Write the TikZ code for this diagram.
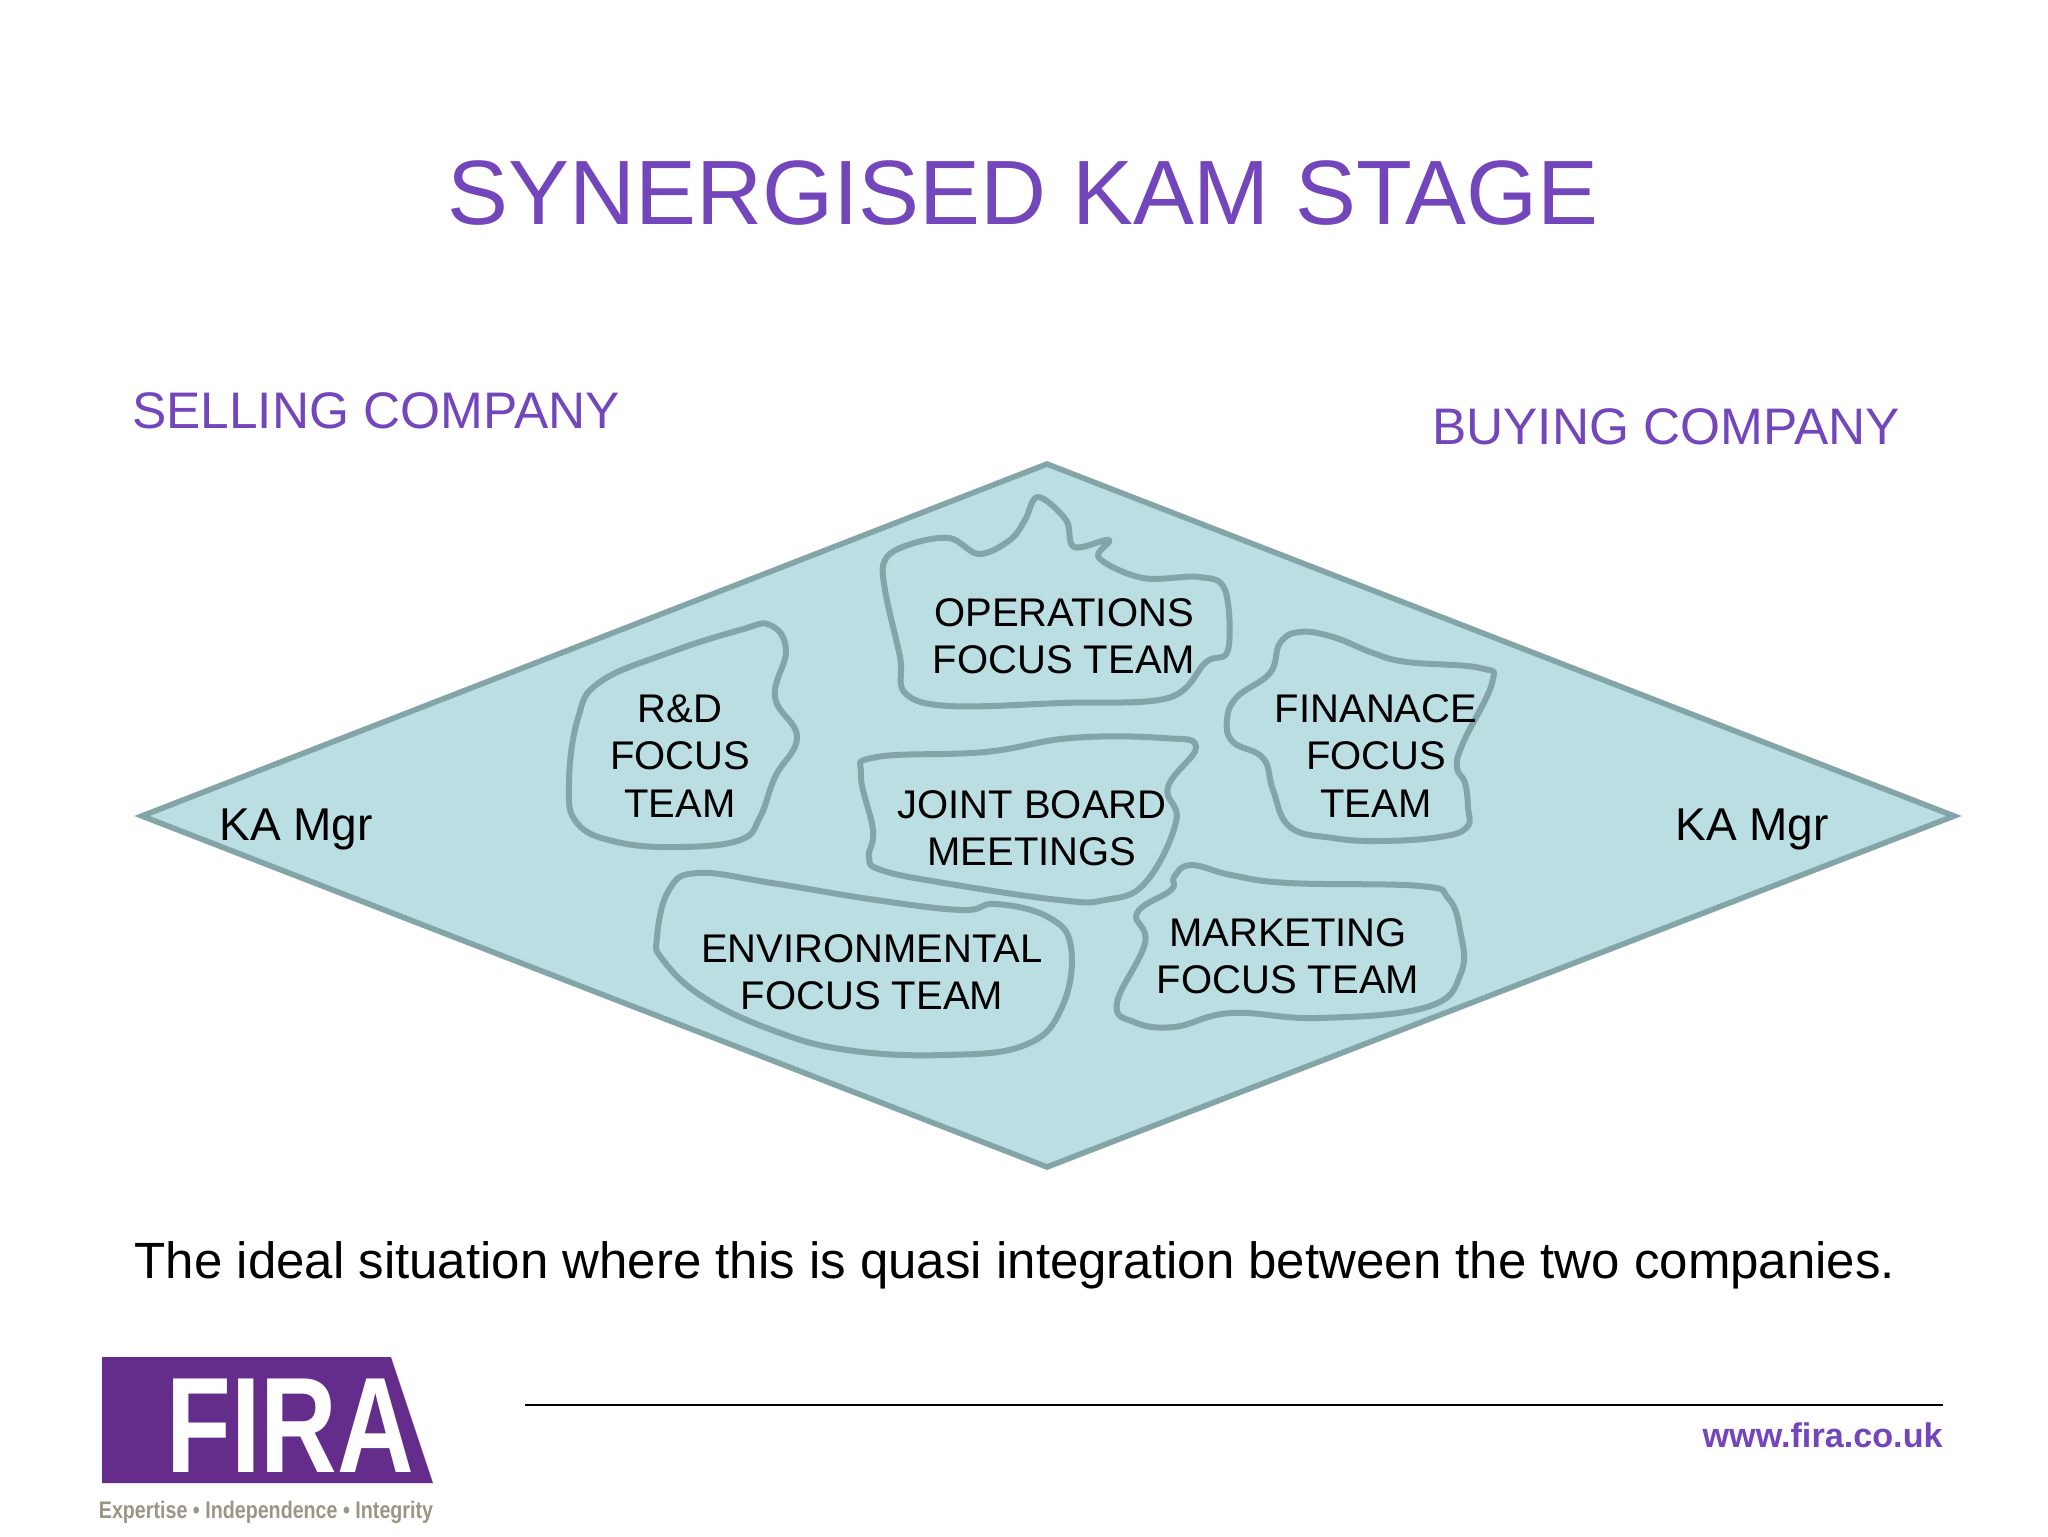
\documentclass[tikz,border=0pt]{standalone}
\usepackage{fontspec}
\setmainfont{Liberation Sans}
\definecolor{kampurple}{HTML}{7346BC}
\definecolor{logopurple}{HTML}{642D8C}
\definecolor{kamfill}{HTML}{BADEE2}
\definecolor{kamedge}{HTML}{84A5A8}
\definecolor{logotaupe}{HTML}{9C9584}
\begin{document}
\begin{tikzpicture}[
  x=0.5pt, y=-0.5pt,
  head/.style={text=kampurple, inner sep=0pt},
  blob/.style={draw=kamedge, line width=3pt, line join=round},
  team/.style={align=center, inner sep=0pt, font=\fontsize{20}{23.6}\selectfont},
  kam/.style={inner sep=0pt, font=\fontsize{23}{27}\selectfont}
]
\useasboundingbox (0,0) rectangle (2048,1536);

% --- diamond ---
\draw[fill=kamfill, draw=kamedge, line width=2.8pt, line join=miter]
  (142,816) -- (1047,464) -- (1954,816) -- (1047,1167) -- cycle;

% --- blobs ---
\draw[blob] plot[smooth cycle, tension=0.6] coordinates {(885,560) (908,545) (949,538) (979,554) (1010,540) (1025,520) (1038,497) (1066,520) (1074,547) (1109,540) (1099,558) (1143,578) (1199,577) (1225,590) (1228,650) (1206,662) (1168,698) (1061,703) (949,706) (905,693) (900,657) (885,590)};
\draw[blob] plot[smooth cycle, tension=0.7] coordinates {(770,625) (740,630) (668,653) (600,682) (578,718) (569,783) (577,823) (617,842) (679,847) (740,840) (760,817) (775,777) (797,737) (775,697) (786,650)};
\draw[blob] plot[smooth cycle, tension=0.7] coordinates {(861,775) (877,757) (985,752) (1071,738) (1163,738) (1196,747) (1168,787) (1176,822) (1145,883) (1105,900) (1059,900) (944,883) (881,870) (869,857) (873,830)};
\draw[blob] plot[smooth cycle, tension=0.7] coordinates {(657,937) (669,890) (698,873) (772,883) (876,900) (962,910) (996,904) (1048,917) (1071,947) (1062,1007) (1025,1045) (944,1055) (847,1050) (772,1030) (703,997) (663,960)};
\draw[blob] plot[smooth cycle, tension=0.7] coordinates {(1191,865) (1174,877) (1171,890) (1137,913) (1145,943) (1117,1003) (1134,1022) (1174,1027) (1231,1013) (1318,1018) (1427,1007) (1461,973) (1460,930) (1448,898) (1420,886) (1289,883) (1231,875)};
\draw[blob] plot[smooth cycle, tension=0.7] coordinates {(1300,632) (1280,643) (1270,673) (1237,697) (1227,720) (1233,742) (1263,758) (1273,790) (1290,827) (1333,838) (1380,841) (1440,837) (1467,827) (1468,807) (1465,783) (1457,767) (1463,743) (1492,683) (1480,668) (1407,662) (1373,653) (1333,637)};

% --- team labels ---
\node[team] (opsT) at (1064,636) {OPERATIONS\\FOCUS TEAM};
\node[team] (rdT) at (680,756) {R\&D\\FOCUS\\TEAM};
\node[team] (boardT) at (1032,828) {JOINT BOARD\\MEETINGS};
\node[team] (envT) at (872,972) {ENVIRONMENTAL\\FOCUS TEAM};
\node[team] (mktT) at (1288,956) {MARKETING\\FOCUS TEAM};
\node[team] (finT) at (1376,756) {FINANACE\\FOCUS\\TEAM};

% --- text round the diamond ---
\node[head, font=\fontsize{45.7}{50}\selectfont] (title) at (1023,193) {SYNERGISED KAM STAGE};
\node[head, font=\fontsize{25.7}{30}\selectfont] (sellT) at (376,411) {SELLING COMPANY};
\node[head, font=\fontsize{25.7}{30}\selectfont] (buyT) at (1666,427) {BUYING COMPANY};
\node[kam] (kaL) at (296,829) {KA Mgr};
\node[kam] (kaR) at (1752,829) {KA Mgr};
\node[inner sep=0pt, font=\fontsize{25.5}{30}\selectfont] (note) at (1015,1265) {The ideal situation where this is quasi integration between the two companies.};

% --- footer ---
\coordinate (ruleA) at (525,1405);
\coordinate (ruleB) at (1943,1405);
\draw[line width=0.8pt] (ruleA) -- (ruleB);
\node[text=kampurple, inner sep=0pt, anchor=east, font=\bfseries\fontsize{17.1}{20}\selectfont] (web) at (1943,1435) {www.fira.co.uk};

% --- logo ---
\fill[logopurple] (102,1357) -- (391,1357) -- (433,1483) -- (102,1483) -- cycle;
\node[text=white, inner sep=0pt, xscale=0.78, font=\bfseries\fontsize{68}{74}\selectfont] (fira) at (290,1426) {FIRA};
\node[text=logotaupe, inner sep=0pt, xscale=0.82, font=\bfseries\fontsize{12}{14}\selectfont] (tag) at (266,1512) {Expertise • Independence • Integrity};
\end{tikzpicture}
\end{document}
